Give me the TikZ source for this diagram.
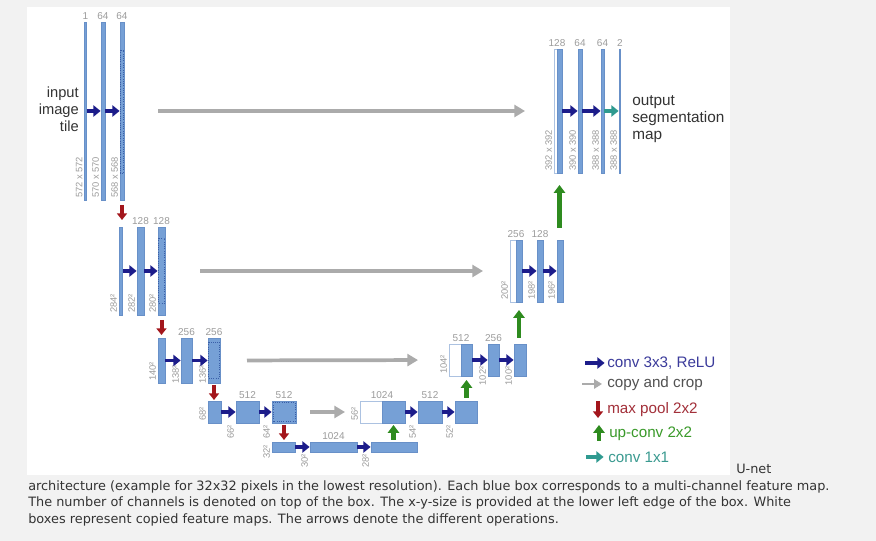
\documentclass[tikz,border=0pt]{standalone}
\usepackage{fontspec}
\setmainfont{Liberation Sans}
\newfontfamily\capfont{DejaVu Sans}
\usetikzlibrary{arrows.meta}
\definecolor{bg}{HTML}{F2F2F2}
\definecolor{fmfill}{HTML}{76A0D6}
\definecolor{fmedge}{HTML}{6890C8}
\definecolor{cropc}{HTML}{3A5FA8}
\definecolor{convc}{HTML}{1C1C8A}
\definecolor{copyc}{HTML}{ABABAB}
\definecolor{poolc}{HTML}{A3161C}
\definecolor{upc}{HTML}{2E8B1F}
\definecolor{onec}{HTML}{2F9A90}
\definecolor{lblc}{HTML}{9C9C9C}
\definecolor{txtc}{HTML}{333333}
\definecolor{lconv}{HTML}{3B3B9B}
\definecolor{lpool}{HTML}{A3303A}
\definecolor{lup}{HTML}{3A9A2A}
\definecolor{lone}{HTML}{3A9A90}
\newcommand\fmb[6][]{\node[fm,#1,minimum width={(#5-#3)*0.75pt},minimum height={(#6-#4)*0.75pt}] (#2) at (#3,#4) {};}
\tikzset{
  fm/.style={draw=fmedge, fill=fmfill, anchor=north west, inner sep=0pt, outer sep=0pt, line width=0.5pt},
  wfm/.style={fill=white, draw=fmedge!55},
  crop/.style={draw=cropc, densely dotted, line width=0.7pt},
  conv/.style={draw=convc, line width=2.6pt, -{Triangle[length=5.5pt,width=8.5pt]}, shorten <=0.3pt, shorten >=0.3pt},
  copyarr/.style={draw=copyc, line width=2.8pt, -{Triangle[length=8pt,width=9pt]}},
  pool/.style={draw=poolc, line width=3pt, -{Triangle[length=5pt,width=7.5pt]}},
  upconv/.style={draw=upc, line width=3.5pt, -{Triangle[length=6pt,width=8.5pt]}},
  one/.style={draw=onec, line width=2.6pt, -{Triangle[length=5.5pt,width=8.5pt]}, shorten <=0.3pt, shorten >=0.3pt},
  ch/.style={font=\fontsize{7.5}{8}\selectfont, text=lblc, anchor=south, inner sep=1.5pt},
  sz/.style={font=\fontsize{7}{8}\selectfont, text=lblc, rotate=90, inner sep=1.3pt},
  big/.style={font=\fontsize{11}{12.75}\selectfont, text=txtc, inner sep=0pt},
  leg/.style={font=\fontsize{11.4}{12}\selectfont, anchor=west, inner sep=0pt},
  captxt/.style={font=\capfont\fontsize{9.65}{12}\selectfont, text=txtc, anchor=west, inner sep=0pt}
}
\begin{document}
\begin{tikzpicture}[x=0.75pt,y=-0.75pt]
\useasboundingbox (0,0) rectangle (876,541);
\fill[bg] (0,0) rectangle (876,541);
\fill[white] (27,7) rectangle (730,475);
% ---- level 1 left
\fmb{a1}{84.5}{22}{86.3}{200}
\fmb{a2}{101}{22}{105}{200}
\fmb{a3}{120}{22}{124}{200}
\draw[crop] (120.3,50) rectangle (123.7,173);
% ---- level 2 left
\fmb{b1}{119}{227}{122.5}{315}
\fmb{b2}{137}{227}{144}{315}
\fmb{b3}{158}{227}{165}{315}
\draw[crop] (158.5,238) rectangle (164.5,303);
% ---- level 3 left
\fmb{c1}{158}{338}{165}{383}
\fmb{c2}{181}{338}{192}{383}
\fmb{c3}{208}{338}{220}{383}
\draw[crop] (208.6,342) rectangle (219.4,378);
% ---- level 4 left
\fmb{d1}{208}{401}{221}{423}
\fmb{d2}{236}{401}{259}{423}
\fmb{d3}{272}{401}{296}{423}
\draw[crop] (273,402.5) rectangle (295,421.5);
% ---- level 5
\fmb{e1}{272}{442}{295}{452}
\fmb{e2}{310}{442}{357}{452}
\fmb{e3}{371}{442}{417}{452}
% ---- level 4 right
\fmb[wfm]{f0}{360}{401}{382}{423}
\fmb{f1}{382}{401}{405}{423}
\fmb{f2}{418}{401}{442}{423}
\fmb{f3}{455}{401}{477}{423}
% ---- level 3 right
\fmb[wfm]{g0}{449}{344}{461}{376}
\fmb{g1}{461}{344}{472}{376}
\fmb{g2}{488}{344}{499}{376}
\fmb{g3}{514}{344}{526}{376}
% ---- level 2 right
\fmb[wfm]{h0}{510}{240}{516}{302}
\fmb{h1}{516}{240}{522}{302}
\fmb{h2}{537}{240}{543}{302}
\fmb{h3}{557}{240}{563}{302}
% ---- level 1 right
\fmb[wfm]{i0}{554}{49}{557}{173}
\fmb{i1}{557}{49}{562}{173}
\fmb{i2}{578}{49}{582}{173}
\fmb{i3}{601}{49}{604}{173}
\fmb{i4}{619}{49}{620.6}{173}
% ---- channel labels
\node[ch] (ta1) at (a1.north) {1};
\node[ch] (ta2) at (a2.north) {64};
\node[ch] (ta3) at (a3.north) {64};
\node[ch] (tb2) at (b2.north) {128};
\node[ch] (tb3) at (b3.north) {128};
\node[ch] (tc2) at (c2.north) {256};
\node[ch] (tc3) at (c3.north) {256};
\node[ch] (td2) at (d2.north) {512};
\node[ch] (td3) at (d3.north) {512};
\node[ch] (te2) at (e2.north) {1024};
\node[ch] (tf1) at (f0.north east) {1024};
\node[ch] (tf2) at (f2.north) {512};
\node[ch] (tg1) at (g0.north east) {512};
\node[ch] (tg2) at (g2.north) {256};
\node[ch] (th1) at (h0.north east) {256};
\node[ch] (th2) at (h2.north) {128};
\node[ch] (ti1) at (i0.north east) {128};
\node[ch] (ti2) at (i2.north) {64};
\node[ch] (ti3) at (i3.north) {64};
\node[ch] (ti4) at (i4.north) {2};
% ---- size labels
\node[sz, anchor=south west] (sa1) at (a1.south west) {572 x 572};
\node[sz, anchor=south west] (sa2) at (a2.south west) {570 x 570};
\node[sz, anchor=south west] (sa3) at (a3.south west) {568 x 568};
\node[sz, anchor=south west] (sb1) at (b1.south west) {284²};
\node[sz, anchor=south west] (sb2) at (b2.south west) {282²};
\node[sz, anchor=south west] (sb3) at (b3.south west) {280²};
\node[sz, anchor=south west] (sc1) at (c1.south west) {140²};
\node[sz, anchor=south west] (sc2) at ([yshift=-2pt]c2.south west) {138²};
\node[sz, anchor=south west] (sc3) at ([yshift=-2pt]c3.south west) {136²};
\node[sz, anchor=south west] (sd1) at (d1.south west) {68²};
\node[sz, anchor=south east] (sd2) at (d2.south west) {66²};
\node[sz, anchor=south east] (sd3) at (d3.south west) {64²};
\node[sz, anchor=south] (se1) at (e1.south west) {32²};
\node[sz, anchor=south east] (se2) at (e2.south west) {30²};
\node[sz, anchor=south east] (se3) at (e3.south west) {28²};
\node[sz, anchor=south west] (sf0) at (f0.south west) {56²};
\node[sz, anchor=south east] (sf2) at (f2.south west) {54²};
\node[sz, anchor=south east] (sf3) at (f3.south west) {52²};
\node[sz, anchor=south west] (sg0) at (g0.south west) {104²};
\node[sz, anchor=south] (sg2) at (g2.south west) {102²};
\node[sz, anchor=south] (sg3) at (g3.south west) {100²};
\node[sz, anchor=south west] (sh0) at (h0.south west) {200²};
\node[sz, anchor=south west] (sh2) at (h2.south west) {198²};
\node[sz, anchor=south west] (sh3) at (h3.south west) {196²};
\node[sz, anchor=south west] (si0) at (i0.south west) {392 x 392};
\node[sz, anchor=south west] (si2) at (i2.south west) {390 x 390};
\node[sz, anchor=south west] (si3) at (i3.south west) {388 x 388};
\node[sz, anchor=south west] (si4) at (i4.south west) {388 x 388};
% ---- conv arrows
\draw[conv] (a1.east) -- (a2.west);
\draw[conv] (a2.east) -- (a3.west);
\draw[conv] (b1.east) -- (b2.west);
\draw[conv] (b2.east) -- (b3.west);
\draw[conv] (c1.east) -- (c2.west);
\draw[conv] (c2.east) -- (c3.west);
\draw[conv] (d1.east) -- (d2.west);
\draw[conv] (d2.east) -- (d3.west);
\draw[conv] (e1.east) -- (e2.west);
\draw[conv] (e2.east) -- (e3.west);
\draw[conv] (f1.east) -- (f2.west);
\draw[conv] (f2.east) -- (f3.west);
\draw[conv] (g1.east) -- (g2.west);
\draw[conv] (g2.east) -- (g3.west);
\draw[conv] (h1.east) -- (h2.west);
\draw[conv] (h2.east) -- (h3.west);
\draw[conv] (i1.east) -- (i2.west);
\draw[conv] (i2.east) -- (i3.west);
\draw[one] (i3.east) -- (i4.west);
% ---- copy and crop
\draw[copyarr, shorten <=25.5pt, shorten >=21.75pt] (a3.east) -- (i0.west);
\draw[copyarr, shorten <=26.25pt, shorten >=20.25pt] (b3.east) -- (h0.west);
\draw[copyarr, shorten <=20.25pt, shorten >=23.25pt] (c3.east) -- (g0.west);
\draw[copyarr, shorten <=10.5pt, shorten >=11.25pt] (d3.east) -- (f0.west);
% ---- max pool
\draw[pool, shorten <=3.75pt, shorten >=5.25pt] (a3.south) -- (a3.south |- b1.north);
\draw[pool, shorten <=3.75pt, shorten >=2.25pt] (b3.south) -- (b3.south |- c1.north);
\draw[pool, shorten <=1.5pt, shorten >=0.75pt] (c3.south) -- (c3.south |- d1.north);
\draw[pool, shorten <=1.5pt, shorten >=1.5pt] (d3.south) -- (d3.south |- e1.north);
% ---- up-conv
\draw[upconv, shorten <=1.5pt, shorten >=1.5pt] (f1.south |- e3.north) -- (f1.south);
\draw[upconv, shorten <=2.25pt, shorten >=3pt] (g1.south |- f3.north) -- (g1.south);
\draw[upconv, shorten <=4.5pt, shorten >=6pt] (h1.south |- g3.north) -- (h1.south);
\draw[upconv, shorten <=9pt, shorten >=9pt] (i1.south |- h3.north) -- (i1.south);
% ---- texts
\node[big, anchor=east, align=right] (inp) at (79,109) {input\\image\\tile};
\node[big, anchor=west, align=left, font=\fontsize{11.5}{13}\selectfont] (outp) at (632,119) {output\\segmentation\\map};
% ---- legend
\coordinate (l1a) at (585,363); \coordinate (l1b) at (605,363);
\coordinate (l2a) at (582,384); \coordinate (l2b) at (602,384);
\coordinate (l3a) at (598,401); \coordinate (l3b) at (598,418);
\coordinate (l4a) at (599,441); \coordinate (l4b) at (599,425);
\coordinate (l5a) at (586,457); \coordinate (l5b) at (604,457);
\draw[conv] (l1a) -- (l1b);
\draw[copyarr, line width=2.2pt, -{Triangle[length=6pt,width=7pt]}] (l2a) -- (l2b);
\draw[pool] (l3a) -- (l3b);
\draw[upconv, line width=3pt] (l4a) -- (l4b);
\draw[one] (l5a) -- (l5b);
\node[leg, text=lconv] (g1t) at (607,363) {conv 3x3, ReLU};
\node[leg, text=txtc!85] (g2t) at (607,384) {copy and crop};
\node[leg, text=lpool] (g3t) at (607,410) {max pool 2x2};
\node[leg, text=lup] (g4t) at (609,434) {up-conv 2x2};
\node[leg, text=lone] (g5t) at (608,457) {conv 1x1};
% ---- caption
\node[captxt] (unet) at (736,469) {U-net};
\node[captxt] (cap1) at (28,487) {architecture (example for 32x32 pixels in the lowest resolution). Each blue box corresponds to a multi-channel feature map.};
\node[captxt] (cap2) at (28,503) {The number of channels is denoted on top of the box. The x-y-size is provided at the lower left edge of the box. White};
\node[captxt] (cap3) at (28,520) {boxes represent copied feature maps. The arrows denote the different operations.};
\end{tikzpicture}
\end{document}
